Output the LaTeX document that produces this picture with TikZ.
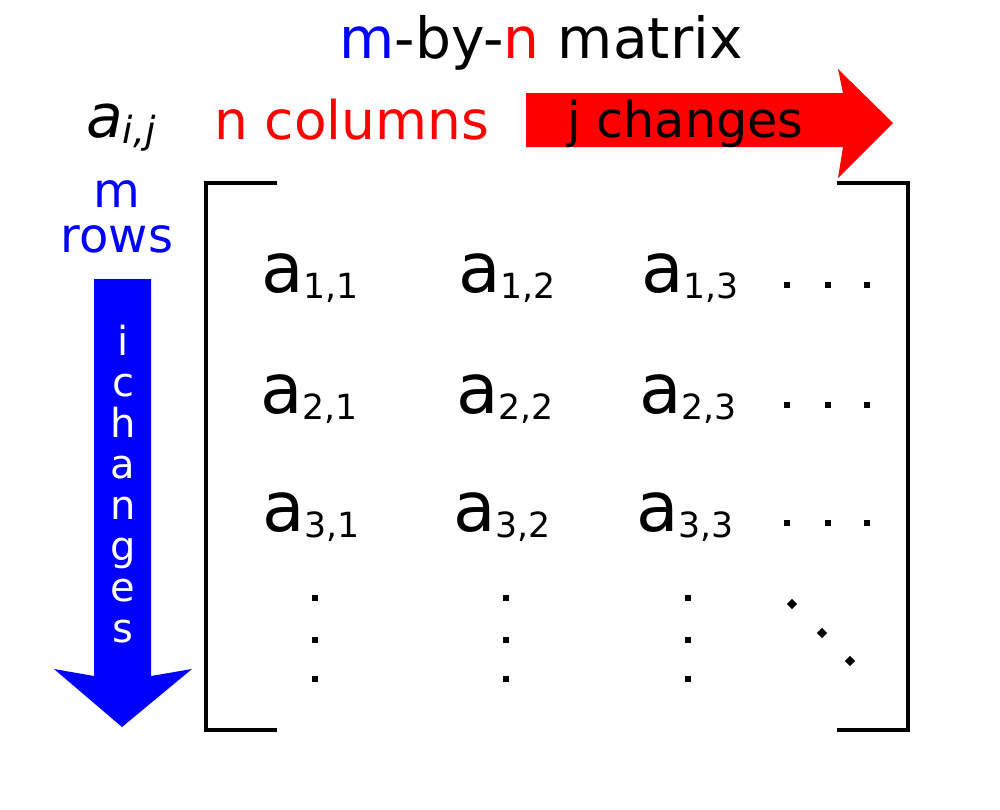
\documentclass[tikz,border=0pt]{standalone}
\usepackage{fontspec}
\setmainfont{DejaVu Sans}
\usetikzlibrary{positioning}
\newcommand{\fs}[1]{\fontsize{#1}{#1}\selectfont}
\newcommand{\entry}[1]{a{\fs{26}\raisebox{-4.5pt}{#1}}}

\begin{document}
\begin{tikzpicture}[x=.75pt, y=-.75pt,
  txt/.style={inner sep=0, outer sep=0},
  brk/.style={line width=2.6pt},
  dot/.style={fill=black, minimum size=4.8pt, inner sep=0, outer sep=0}]
\useasboundingbox (0,0) rectangle (1000,810);
\node[txt, anchor=base] (title) at (541,58) {\fs{42.5}{\color{blue}m}-by-{\color{red}n} matrix};
\node[txt, anchor=base west] (aij) at (86,137) {\fs{45}\itshape a{\fs{28}\raisebox{-4.5pt}{i,j}}};
\node[txt, anchor=base west, red] (ncol) at (214,139) {\fs{40}n columns};
\node[txt, anchor=base, blue] (m) at (117,207) {\fs{36}m};
\node[txt, anchor=base, blue] (rows) at (117,252) {\fs{36}rows};
\fill[red] (526,93) -- (843,93) -- (838,69) -- (893,123) -- (838,178) -- (843,147) -- (526,147) -- cycle;
\node[txt, anchor=base west] (jch) at (567,137) {\fs{37}j changes};
\fill[blue] (94,279) -- (151,279) -- (151,676) -- (192,669) -- (122,727) -- (54,669) -- (94,676) -- cycle;
\foreach \l [count=\k from 0] in {i,c,h,a,n,g,e,s}
  \node[txt, anchor=base, white] (ich\k) at (123,355+41*\k) {\fs{30}\l};
\draw[brk] (277,183) -- (206,183) -- (206,730) -- (277,730);
\draw[brk] (837,183) -- (908,183) -- (908,730) -- (837,730);
\foreach \r/\c/\x/\y in {1/1/261/292, 1/2/458/292, 1/3/641/292,
                         2/1/260/413, 2/2/456/413, 2/3/639/413,
                         3/1/262/531, 3/2/453/531, 3/3/636/531}
  \node[txt, anchor=base west] (e\r\c) at (\x,\y) {\fs{52}\entry{\r,\c}};
\foreach \y in {285,405,523}
  \foreach \x in {787,828,867}
    \node[dot] at (\x,\y) {};
\foreach \x in {315,506,688}
  \foreach \y in {598,640,679}
    \node[dot] at (\x,\y) {};
\foreach \x/\y in {792/604, 822/633, 850/661}
  \node[dot, minimum size=5.4pt, rotate=45] at (\x,\y) {};
\end{tikzpicture}
\end{document}
